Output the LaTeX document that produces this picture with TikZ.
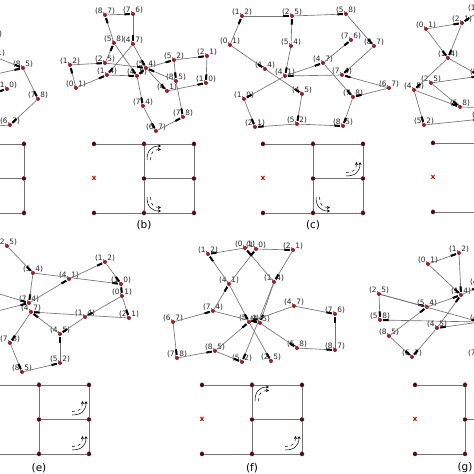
\documentclass[tikz,border=0pt]{standalone}
\usepackage{fontspec}
\setmainfont{DejaVu Sans}
\usepackage{tikz}
\usetikzlibrary{arrows.meta}
\definecolor{rossonodo}{RGB}{155,30,45}
\definecolor{grigiolinea}{RGB}{115,115,115}
\tikzset{giro/.pic={
    \draw [giroline, -{Stealth[length=3pt,width=3pt]}] (-6,8) .. controls (-6,-1) and (-2,-6) .. (8,-6);
    \draw [giroline, dashed, -{Stealth[length=3pt,width=3pt]}] (-2.5,8) .. controls (-2.5,1) and (0,-2.5) .. (8,-2.5);
  }}

\begin{document}
\begin{tikzpicture}[x=1pt, y=-1pt,
    stato/.style={circle, fill=rossonodo, inner sep=0pt, minimum size=4pt},
    etich/.style={font=\fontsize{7.4}{8}\selectfont, inner sep=0pt, text=black!85},
    every label/.style={etich}, label distance=-1.5pt,
    arco/.style={draw=grigiolinea, line width=0.65pt, shorten >=1pt, -{Rectangle[length=5.5pt,width=2pt,black]}},
    cella/.style={circle, fill=rossonodo!70!black, inner sep=0pt, minimum size=4.5pt, font=\fontsize{4.5}{5}\selectfont},
    ostacolo/.style={text=red!80!black, font=\bfseries\fontsize{7.5}{7.5}\selectfont, inner sep=0pt},
    griglia/.style={draw=grigiolinea, line width=0.9pt},
    didascalia/.style={font=\fontsize{10.5}{12}\selectfont},
    giroline/.style={line width=0.5pt}]
  \useasboundingbox (0,0) rectangle (474,474);
  \fill [white] (0,0) rectangle (474,474);
  \clip (0,0) rectangle (474,474);

  % pannello (a): grafo degli stati
  \node (a14) [stato, label={above:{(1, 4)}}] at (-8,38) {};
  \node (a41) [stato, label={above:{(4, 1)}}] at (-5,57) {};
  \node (a85) [stato, label={above:{(8, 5)}}] at (23,68) {};
  \node (a10) [stato, label={above:{(1, 0)}}] at (7,89) {};
  \node (a78) [stato, label={above:{(7, 8)}}] at (38,99) {};
  \node (a67) [stato, label={above:{(6, 7)}}] at (10,125) {};
  \coordinate (aw1) at (-30,80);
  \coordinate (aw2) at (-30,100);
  \coordinate (aw3) at (-30,128);
  \draw [arco] (a41) -- (a85);
  \draw [arco] (a85) -- (a78);
  \draw [arco] (a78) -- (a67);
  \draw [arco] (aw1) -- (a85);
  \draw [arco] (aw2) -- (a10);
  \draw [arco] (a67) -- (aw3);
  \draw [arco] (a14) -- (a41);

  % pannello (b): grafo degli stati
  \node (b87) [stato, label={above:{(8, 7)}}] at (105,15) {};
  \node (b76) [stato, label={above:{(7, 6)}}] at (133,14) {};
  \node (b58) [stato, label={above:{(5, 8)}}] at (114,43) {};
  \node (b47) [stato, label={above:{(4, 7)}}] at (133,44) {};
  \node (b25) [stato, label={above:{(2, 5)}}] at (105,63) {};
  \node (b12) [stato, label={above:{(1, 2)}}] at (70,65) {};
  \node (b14) [stato, label={above:{(1, 4)}}] at (107,75) {};
  \node (b01) [stato, label={above:{(0, 1)}}] at (76,88) {};
  \node (b45) [stato, label={above:{(4, 5)}}] at (137,76) {};
  \node (b54) [stato, label={above:{(5, 4)}}] at (146,68) {};
  \node (b52) [stato, label={above:{(5, 2)}}] at (174,60) {};
  \node (b21) [stato, label={above:{(2, 1)}}] at (207,56) {};
  \node (b85) [stato, label={above:{(8, 5)}}] at (176,81) {};
  \node (b41) [stato, label={above:{(4, 1)}}] at (167,91) {};
  \node (b10) [stato, label={above:{(1, 0)}}] at (206,83) {};
  \node (b74) [stato, label={above:{(7, 4)}}] at (143,106) {};
  \node (b78) [stato, label={above:{(7, 8)}}] at (183,117) {};
  \node (b67) [stato, label={above:{(6, 7)}}] at (156,131) {};
  \draw [arco] (b87) -- (b76);
  \draw [arco] (b58) -- (b87);
  \draw [arco] (b76) -- (b47);
  \draw [arco] (b25) -- (b58);
  \draw [arco] (b58) -- (b45);
  \draw [arco] (b47) -- (b14);
  \draw [arco] (b47) -- (b54);
  \draw [arco] (b12) -- (b25);
  \draw [arco] (b01) -- (b12);
  \draw [arco] (b01) -- (b14);
  \draw [arco] (b14) -- (b45);
  \draw [arco] (b25) -- (b54);
  \draw [arco] (b45) -- (b74);
  \draw [arco] (b54) -- (b45);
  \draw [arco] (b54) -- (b52);
  \draw [arco] (b85) -- (b54);
  \draw [arco] (b54) -- (b41);
  \draw [arco] (b52) -- (b21);
  \draw [arco] (b41) -- (b10);
  \draw [arco] (b21) -- (b10);
  \draw [arco] (b52) -- (b85);
  \draw [arco] (b85) -- (b78);
  \draw [arco] (b74) -- (b67);
  \draw [arco] (b67) -- (b78);

  % pannello (c): grafo degli stati
  \node (c12) [stato, label={above:{(1, 2)}}] at (242,16) {};
  \node (c25) [stato, label={above:{(2, 5)}}] at (292,16) {};
  \node (c58) [stato, label={above:{(5, 8)}}] at (346,14) {};
  \node (c01) [stato, label={above:{(0, 1)}}] at (230,45) {};
  \node (c54) [stato, label={above:{(5, 4)}}] at (291,46) {};
  \node (c76) [stato, label={above:{(7, 6)}}] at (351,40) {};
  \node (c87) [stato, label={above:{(8, 7)}}] at (374,46) {};
  \node (c14) [stato, label={above:{(1, 4)}}] at (265,69) {};
  \node (c41) [stato, label={above:{(4, 1)}}] at (285,76) {};
  \node (c47) [stato, label={above:{(4, 7)}}] at (323,63) {};
  \node (c74) [stato, label={above:{(7, 4)}}] at (342,75) {};
  \node (c10) [stato, label={above:{(1, 0)}}] at (244,99) {};
  \node (c45) [stato, label={above:{(4, 5)}}] at (302,94) {};
  \node (c78) [stato, label={above:{(7, 8)}}] at (353,97) {};
  \node (c67) [stato, label={above:{(6, 7)}}] at (389,88) {};
  \node (c21) [stato, label={above:{(2, 1)}}] at (255,127) {};
  \node (c52) [stato, label={above:{(5, 2)}}] at (297,124) {};
  \node (c85) [stato, label={above:{(8, 5)}}] at (343,126) {};
  \draw [arco] (c12) -- (c25);
  \draw [arco] (c01) -- (c12);
  \draw [arco] (c54) -- (c25);
  \draw [arco] (c25) -- (c58);
  \draw [arco] (c58) -- (c87);
  \draw [arco] (c47) -- (c76);
  \draw [arco] (c87) -- (c74);
  \draw [arco] (c67) -- (c74);
  \draw [arco] (c47) -- (c78);
  \draw [arco] (c67) -- (c78);
  \draw [arco] (c78) -- (c85);
  \draw [arco] (c52) -- (c85);
  \draw [arco] (c52) -- (c21);
  \draw [arco] (c45) -- (c52);
  \draw [arco] (c41) -- (c10);
  \draw [arco] (c10) -- (c21);
  \draw [arco] (c01) -- (c14);
  \draw [arco] (c14) -- (c45);
  \draw [arco] (c54) -- (c41);
  \draw [arco] (c41) -- (c47);
  \draw [arco] (c74) -- (c41);

  % pannello (d): grafo degli stati
  \node (d12) [stato, label={above:{(1, 2)}}] at (478,12) {};
  \node (d21) [stato, label={above:{(2, 1)}}] at (462,23) {};
  \node (d01) [stato, label={above:{(0, 1)}}] at (426,29) {};
  \node (d14) [stato, label={above:{(1, 4)}}] at (448,58) {};
  \node (d54) [stato, label={above:{(5, 4)}}] at (480,76) {};
  \node (d25) [stato, label={above:{(2, 5)}}] at (431,83) {};
  \node (d45) [stato, label={above:{(4, 5)}}] at (414,90) {};
  \node (d58) [stato, label={above:{(5, 8)}}] at (460,107) {};
  \node (d47) [stato, label={above:{(4, 7)}}] at (482,119) {};
  \node (d52) [stato, label={above:{(5, 2)}}] at (424,125) {};
  \coordinate (dw1) at (500,108);
  \draw [arco] (d01) -- (d21);
  \draw [arco] (d12) -- (d21);
  \draw [arco] (d21) -- (d14);
  \draw [arco] (d01) -- (d14);
  \draw [arco] (d14) -- (d45);
  \draw [arco] (d14) -- (d54);
  \draw [arco] (d25) -- (d54);
  \draw [arco] (d45) -- (d58);
  \draw [arco] (d25) -- (d58);
  \draw [arco] (d52) -- (d47);
  \draw [arco] (d45) -- (d52);
  \draw [arco] (d58) -- (dw1);

  % pannello (e): grafo degli stati
  \node (e25) [stato, label={above:{(2, 5)}}] at (7,246) {};
  \node (e54) [stato, label={above:{(5, 4)}}] at (33,273) {};
  \node (e41) [stato, label={above:{(4, 1)}}] at (69,279) {};
  \node (e12) [stato, label={above:{(1, 2)}}] at (105,262) {};
  \node (e10) [stato, label={above:{(1, 0)}}] at (121,284) {};
  \node (e01) [stato, label={above:{(0, 1)}}] at (122,296) {};
  \node (e74) [stato, label={above:{(7, 4)}}] at (29,303) {};
  \node (e47) [stato, label={above:{(4, 7)}}] at (31,312) {};
  \node (e14) [stato, label={above:{(1, 4)}}] at (85,317) {};
  \node (e21) [stato, label={above:{(2, 1)}}] at (129,318) {};
  \node (e45) [stato, label={above:{(4, 5)}}] at (60,334) {};
  \node (e78) [stato, label={above:{(7, 8)}}] at (10,343) {};
  \node (e85) [stato, label={above:{(8, 5)}}] at (22,372) {};
  \node (e52) [stato, label={above:{(5, 2)}}] at (60,363) {};
  \coordinate (ew1) at (-30,285);
  \coordinate (ew2) at (-30,318);
  \draw [arco] (e25) -- (e54);
  \draw [arco] (e54) -- (e10);
  \draw [arco] (e41) -- (e12);
  \draw [arco] (e74) -- (e41);
  \draw [arco] (e12) -- (e10);
  \draw [arco] (e10) -- (e01);
  \draw [arco] (e01) -- (e14);
  \draw [arco] (e01) -- (e21);
  \draw [arco] (e21) -- (e47);
  \draw [arco] (e14) -- (e45);
  \draw [arco] (e45) -- (e47);
  \draw [arco] (e54) -- (e74);
  \draw [arco] (e47) -- (e78);
  \draw [arco] (e78) -- (e85);
  \draw [arco] (e85) -- (e52);
  \draw [arco] (e52) -- (e45);
  \draw [arco] (ew1) -- (e74);
  \draw [arco] (ew2) -- (e74);

  % pannello (f): grafo degli stati
  \node (f12) [stato, label={above:{(1, 2)}}] at (208,254) {};
  \node (f01) [stato, label={above:{(0, 1)}}] at (245,248) {};
  \node (f10) [stato, label={above:{(1, 0)}}] at (256,249) {};
  \node (f21) [stato, label={above:{(2, 1)}}] at (293,250) {};
  \node (f41) [stato, label={above:{(4, 1)}}] at (229,284) {};
  \node (f14) [stato, label={above:{(1, 4)}}] at (274,282) {};
  \node (f74) [stato, label={above:{(7, 4)}}] at (213,311) {};
  \node (f47) [stato, label={above:{(4, 7)}}] at (294,306) {};
  \node (f67) [stato, label={above:{(6, 7)}}] at (173,322) {};
  \node (f54) [stato, label={above:{(5, 4)}}] at (249,322) {};
  \node (f45) [stato, label={above:{(4, 5)}}] at (260,323) {};
  \node (f85) [stato, label={above:{(8, 5)}}] at (215,351) {};
  \node (f78) [stato, label={above:{(7, 8)}}] at (177,358) {};
  \node (f52) [stato, label={above:{(5, 2)}}] at (242,362) {};
  \node (f25) [stato, label={above:{(2, 5)}}] at (271,361) {};
  \node (f58) [stato, label={above:{(5, 8)}}] at (297,348) {};
  \node (f76) [stato, label={above:{(7, 6)}}] at (335,314) {};
  \node (f87) [stato, label={above:{(8, 7)}}] at (335,350) {};
  \draw [arco] (f01) -- (f12);
  \draw [arco] (f41) -- (f12);
  \draw [arco] (f14) -- (f01);
  \draw [arco] (f41) -- (f10);
  \draw [arco] (f10) -- (f21);
  \draw [arco] (f21) -- (f14);
  \draw [arco] (f41) -- (f54);
  \draw [arco] (f74) -- (f41);
  \draw [arco] (f14) -- (f45);
  \draw [arco] (f67) -- (f74);
  \draw [arco] (f74) -- (f45);
  \draw [arco] (f47) -- (f54);
  \draw [arco] (f47) -- (f76);
  \draw [arco] (f87) -- (f76);
  \draw [arco] (f67) -- (f78);
  \draw [arco] (f78) -- (f85);
  \draw [arco] (f85) -- (f54);
  \draw [arco] (f54) -- (f25);
  \draw [arco] (f45) -- (f58);
  \draw [arco] (f14) -- (f52);
  \draw [arco] (f85) -- (f52);
  \draw [arco] (f58) -- (f87);

  % pannello (g): grafo degli stati
  \node (g01) [stato, label={above:{(0, 1)}}] at (428,264) {};
  \node (g12) [stato, label={above:{(1, 2)}}] at (459,253) {};
  \node (g14) [stato, label={above:{(1, 4)}}] at (461,295) {};
  \node (g41) [stato, label={above:{(4, 1)}}] at (480,286) {};
  \node (g25) [stato, label={above:{(2, 5)}}] at (379,294) {};
  \node (g54) [stato, label={above:{(5, 4)}}] at (427,307) {};
  \node (g58) [stato, label={above:{(5, 8)}}] at (380,320) {};
  \node (g47) [stato, label={above:{(4, 7)}}] at (480,322) {};
  \node (g45) [stato, label={above:{(4, 5)}}] at (437,328) {};
  \node (g85) [stato, label={above:{(8, 5)}}] at (389,336) {};
  \node (g67) [stato, label={above:{(6, 7)}}] at (412,357) {};
  \node (g74) [stato, label={above:{(7, 4)}}] at (478,357) {};
  \draw [arco] (g01) -- (g12);
  \draw [arco] (g12) -- (g14);
  \draw [arco] (g01) -- (g14);
  \draw [arco] (g14) -- (g41);
  \draw [arco] (g25) -- (g54);
  \draw [arco] (g25) -- (g58);
  \draw [arco] (g47) -- (g58);
  \draw [arco] (g54) -- (g14);
  \draw [arco] (g85) -- (g54);
  \draw [arco] (g85) -- (g67);
  \draw [arco] (g45) -- (g67);
  \draw [arco] (g45) -- (g14);
  \draw [arco] (g47) -- (g45);
  \draw [arco] (g25) -- (g47);

  % griglia (a)
  \begin{scope}[shift={(-76,144)}]
    \node (ga6) [cella] at (0,0) {6};
    \node (ga7) [cella] at (50,0) {7};
    \node (ga8) [cella] at (100,0) {8};
    \node (ga3) [ostacolo] at (0,34.5) {x};
    \node (ga4) [cella] at (50,34.5) {4};
    \node (ga5) [cella] at (100,34.5) {5};
    \node (ga0) [cella] at (0,69) {0};
    \node (ga1) [cella] at (50,69) {1};
    \node (ga2) [cella] at (100,69) {2};
    \draw [griglia] (ga6) -- (ga7) -- (ga8) -- (ga5) -- (ga2) -- (ga1) -- (ga0);
    \draw [griglia] (ga7) -- (ga4) -- (ga1);
    \draw [griglia] (ga4) -- (ga5);
  \end{scope}

  % griglia (b)
  \begin{scope}[shift={(94,144)}]
    \node (gb6) [cella] at (0,0) {6};
    \node (gb7) [cella] at (50,0) {7};
    \node (gb8) [cella] at (100,0) {8};
    \node (gb3) [ostacolo] at (0,34.5) {x};
    \node (gb4) [cella] at (50,34.5) {4};
    \node (gb5) [cella] at (100,34.5) {5};
    \node (gb0) [cella] at (0,69) {0};
    \node (gb1) [cella] at (50,69) {1};
    \node (gb2) [cella] at (100,69) {2};
    \draw [griglia] (gb6) -- (gb7) -- (gb8) -- (gb5) -- (gb2) -- (gb1) -- (gb0);
    \draw [griglia] (gb7) -- (gb4) -- (gb1);
    \draw [griglia] (gb4) -- (gb5);
    \pic at (59,8) {giro};
    \pic [yscale=-1] at (59,61) {giro};
    \node (capb) [didascalia] at (50,81) {(b)};
  \end{scope}

  % griglia (c)
  \begin{scope}[shift={(263,144)}]
    \node (gc6) [cella] at (0,0) {6};
    \node (gc7) [cella] at (50,0) {7};
    \node (gc8) [cella] at (100,0) {8};
    \node (gc3) [ostacolo] at (0,34.5) {x};
    \node (gc4) [cella] at (50,34.5) {4};
    \node (gc5) [cella] at (100,34.5) {5};
    \node (gc0) [cella] at (0,69) {0};
    \node (gc1) [cella] at (50,69) {1};
    \node (gc2) [cella] at (100,69) {2};
    \draw [griglia] (gc6) -- (gc7) -- (gc8) -- (gc5) -- (gc2) -- (gc1) -- (gc0);
    \draw [griglia] (gc7) -- (gc4) -- (gc1);
    \draw [griglia] (gc4) -- (gc5);
    \pic [cm={0,1,1,0,(0,0)}] at (91,26) {giro};
    \pic [yscale=-1] at (59,61) {giro};
    \node (capc) [didascalia] at (50,81) {(c)};
  \end{scope}

  % griglia (d)
  \begin{scope}[shift={(433,143)}]
    \node (gd6) [cella] at (0,0) {6};
    \node (gd7) [cella] at (50,0) {7};
    \node (gd3) [ostacolo] at (0,34.5) {x};
    \node (gd4) [cella] at (50,34.5) {4};
    \node (gd0) [cella] at (0,69) {0};
    \node (gd1) [cella] at (50,69) {1};
    \draw [griglia] (gd6) -- (gd7) -- (gd4) -- (gd1) -- (gd0);
    \node (capd) [didascalia] at (50,81) {(d)};
  \end{scope}

  % griglia (e)
  \begin{scope}[shift={(-11,385)}]
    \node (ge6) [cella] at (0,0) {6};
    \node (ge7) [cella] at (50,0) {7};
    \node (ge8) [cella] at (100,0) {8};
    \node (ge3) [ostacolo] at (0,34.5) {x};
    \node (ge4) [cella] at (50,34.5) {4};
    \node (ge5) [cella] at (100,34.5) {5};
    \node (ge0) [cella] at (0,69) {0};
    \node (ge1) [cella] at (50,69) {1};
    \node (ge2) [cella] at (100,69) {2};
    \draw [griglia] (ge6) -- (ge7) -- (ge8) -- (ge5) -- (ge2) -- (ge1) -- (ge0);
    \draw [griglia] (ge7) -- (ge4) -- (ge1);
    \draw [griglia] (ge4) -- (ge5);
    \pic [cm={0,1,1,0,(0,0)}] at (91,24) {giro};
    \pic [cm={0,1,1,0,(0,0)}] at (91,59) {giro};
    \node (cape) [didascalia] at (50,83) {(e)};
  \end{scope}

  % griglia (f)
  \begin{scope}[shift={(202,385)}]
    \node (gf6) [cella] at (0,0) {6};
    \node (gf7) [cella] at (50,0) {7};
    \node (gf8) [cella] at (100,0) {8};
    \node (gf3) [ostacolo] at (0,34.5) {x};
    \node (gf4) [cella] at (50,34.5) {4};
    \node (gf5) [cella] at (100,34.5) {5};
    \node (gf0) [cella] at (0,69) {0};
    \node (gf1) [cella] at (50,69) {1};
    \node (gf2) [cella] at (100,69) {2};
    \draw [griglia] (gf6) -- (gf7) -- (gf8) -- (gf5) -- (gf2) -- (gf1) -- (gf0);
    \draw [griglia] (gf7) -- (gf4) -- (gf1);
    \draw [griglia] (gf4) -- (gf5);
    \pic at (59,8) {giro};
    \pic [cm={0,1,1,0,(0,0)}] at (91,59) {giro};
    \node (capf) [didascalia] at (50,83) {(f)};
  \end{scope}

  % griglia (g)
  \begin{scope}[shift={(415,385)}]
    \node (gg6) [cella] at (0,0) {6};
    \node (gg7) [cella] at (50,0) {7};
    \node (gg3) [ostacolo] at (0,34.5) {x};
    \node (gg4) [cella] at (50,34.5) {4};
    \node (gg0) [cella] at (0,69) {0};
    \node (gg1) [cella] at (50,69) {1};
    \draw [griglia] (gg6) -- (gg7) -- (gg4) -- (gg1) -- (gg0);
    \draw [griglia] (gg4) -- ++(20,0);
    \node (capg) [didascalia] at (50,83) {(g)};
  \end{scope}
\end{tikzpicture}
\end{document}
